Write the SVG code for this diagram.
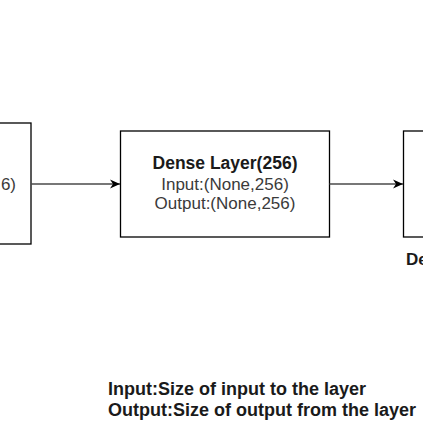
<svg xmlns="http://www.w3.org/2000/svg" width="423" height="423" viewBox="0 0 423 423">
<style>
.box{fill:#fff;stroke:#000;stroke-width:1.3}
.t{font-family:"Liberation Sans",Arial,sans-serif;text-anchor:middle}
.b{font-weight:bold;fill:#1a1a1a}
.n{fill:#3a3a3a}
.conn{stroke:#4a4a4a;stroke-width:1.6;fill:none}
</style>
<defs>
<marker id="ah" viewBox="0 0 10 10" refX="10" refY="5" markerWidth="10" markerHeight="10" markerUnits="userSpaceOnUse" orient="auto">
<path d="M0,0.5 L10,5 L0,9.5 L3,5 Z" fill="#000"/>
</marker>
</defs>
<rect width="423" height="423" fill="#fff"/>
<g id="node-left">
<rect class="box" x="-5" y="123" width="36" height="121"/>
<text class="t n" x="16" y="190" font-size="17" style="text-anchor:end">6)</text>
</g>
<g id="node-dense">
<rect class="box" x="120.5" y="131" width="209" height="106"/>
<text class="t b" x="225" y="169" font-size="17.5">Dense Layer(256)</text>
<text class="t n" x="225" y="190" font-size="17">Input:(None,256)</text>
<text class="t n" x="225" y="209" font-size="17">Output:(None,256)</text>
</g>
<g id="node-right">
<rect class="box" x="403.5" y="131" width="30" height="106"/>
<text class="t b" x="406" y="265" font-size="17" style="text-anchor:start">De</text>
</g>
<g id="connectors">
<line class="conn" x1="31" y1="184" x2="120" y2="184" marker-end="url(#ah)"/>
<line class="conn" x1="329.5" y1="184" x2="403" y2="184" marker-end="url(#ah)"/>
</g>
<g id="legend">
<text class="t b" x="108" y="395" font-size="18" style="text-anchor:start">Input:Size of input to the layer</text>
<text class="t b" x="108" y="416" font-size="18" style="text-anchor:start">Output:Size of output from the layer</text>
</g>
</svg>
